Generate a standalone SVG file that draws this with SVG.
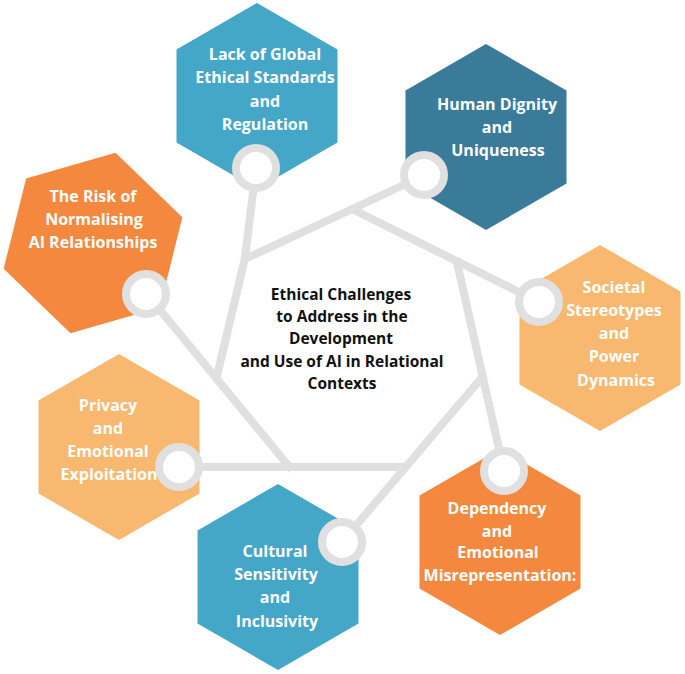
<svg xmlns="http://www.w3.org/2000/svg" width="685" height="674" viewBox="0 0 685 674">
<style>
.blue{fill:#44A7C7}
.dark{fill:#3A7B9A}
.orange{fill:#F5883F}
.light{fill:#F9B86F}
.lbl{font-family:"Open Sans","Liberation Sans",sans-serif;font-weight:700;font-size:16px;fill:#ffffff;text-anchor:middle}
.title{font-family:"Open Sans","Liberation Sans",sans-serif;font-weight:700;font-size:15.5px;fill:#111111;text-anchor:middle}
.ln{fill:none;stroke:#E0E0E0;stroke-width:8;stroke-linecap:butt;stroke-linejoin:round}
.ring{fill:#ffffff;stroke:#E0E0E0;stroke-width:8}
</style>
<defs>
<polygon id="hex" points="0,-93 80.5,-46.5 80.5,46.5 0,93 -80.5,46.5 -80.5,-46.5"/>
</defs>
<rect width="685" height="674" fill="#ffffff"/>
<g id="node-lack">
<use href="#hex" class="blue" transform="translate(257,96)"/>
<text class="lbl" x="265" y="60">Lack of Global</text>
<text class="lbl" x="265" y="83">Ethical Standards</text>
<text class="lbl" x="265" y="107">and</text>
<text class="lbl" x="265" y="130">Regulation</text>
</g>
<g id="node-human">
<use href="#hex" class="dark" transform="translate(486,137)"/>
<text class="lbl" x="497" y="110">Human Dignity</text>
<text class="lbl" x="497" y="133">and</text>
<text class="lbl" x="498" y="156">Uniqueness</text>
</g>
<g id="node-risk">
<use href="#hex" class="orange" transform="translate(93,243) rotate(14)"/>
<text class="lbl" x="93" y="202">The Risk of</text>
<text class="lbl" x="94" y="225">Normalising</text>
<text class="lbl" x="93" y="248">AI Relationships</text>
</g>
<g id="node-societal">
<use href="#hex" class="light" transform="translate(600,338)"/>
<text class="lbl" x="614" y="293">Societal</text>
<text class="lbl" x="614" y="316">Stereotypes</text>
<text class="lbl" x="614" y="339">and</text>
<text class="lbl" x="614" y="362">Power</text>
<text class="lbl" x="616" y="386">Dynamics</text>
</g>
<g id="node-privacy">
<use href="#hex" class="light" transform="translate(119,447)"/>
<text class="lbl" x="108" y="411">Privacy</text>
<text class="lbl" x="108" y="434">and</text>
<text class="lbl" x="108" y="457">Emotional</text>
<text class="lbl" x="109" y="480">Exploitation</text>
</g>
<g id="node-cultural">
<use href="#hex" class="blue" transform="translate(278,577)"/>
<text class="lbl" x="275" y="557">Cultural</text>
<text class="lbl" x="276" y="580">Sensitivity</text>
<text class="lbl" x="275" y="603">and</text>
<text class="lbl" x="277" y="627">Inclusivity</text>
</g>
<g id="node-dependency">
<use href="#hex" class="orange" transform="translate(500,542)"/>
<text class="lbl" x="497" y="514">Dependency</text>
<text class="lbl" x="497" y="537">and</text>
<text class="lbl" x="498" y="558">Emotional</text>
<text class="lbl" x="500" y="581">Misrepresentation:</text>
</g>
<g id="connectors">
<polyline class="ln" points="256,168 245,258 216,380"/>
<line class="ln" x1="425" y1="175" x2="243" y2="260"/>
<line class="ln" x1="539" y1="302" x2="350" y2="208"/>
<line class="ln" x1="504" y1="471" x2="456" y2="258"/>
<line class="ln" x1="342" y1="542" x2="484" y2="375"/>
<line class="ln" x1="179" y1="467" x2="407" y2="467"/>
<line class="ln" x1="146" y1="293" x2="292" y2="470"/>
<circle class="ring" cx="256" cy="168" r="20"/>
<circle class="ring" cx="424" cy="175" r="20"/>
<circle class="ring" cx="539" cy="302" r="20"/>
<circle class="ring" cx="504" cy="471" r="20"/>
<circle class="ring" cx="342" cy="542" r="20"/>
<circle class="ring" cx="179" cy="467" r="20"/>
<circle class="ring" cx="146" cy="294" r="20"/>
</g>
<g id="node-center">
<text class="title" x="341" y="300">Ethical Challenges</text>
<text class="title" x="342" y="322">to Address in the</text>
<text class="title" x="341" y="344">Development</text>
<text class="title" x="342" y="367">and Use of AI in Relational</text>
<text class="title" x="342" y="389">Contexts</text>
</g>
</svg>
